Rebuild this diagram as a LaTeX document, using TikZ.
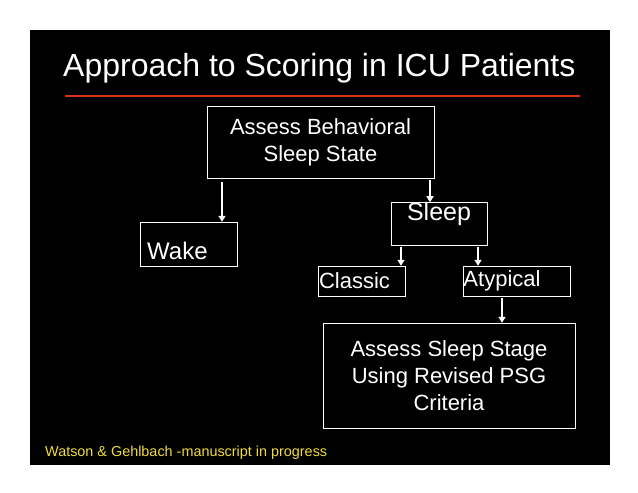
\documentclass[tikz,border=0pt]{standalone}
\usepackage{fontspec}
\setmainfont{Liberation Sans}
\usetikzlibrary{arrows.meta}
\definecolor{footcol}{RGB}{240,220,60}
\definecolor{rulecol}{RGB}{220,50,20}
\tikzstyle{stepbox} = [draw=white, thin, text=white, rectangle, inner sep=0pt, align=center,
    font=\fontsize{22}{27}\selectfont]
\tikzstyle{downArrow} = [draw=white, line width=1.6pt, -{Triangle[length=6pt,width=7pt]}]
\begin{document}
\begin{tikzpicture}[x=1pt,y=-1pt]
\useasboundingbox (0,0) rectangle (638,493);
\fill[black] (30,30) rectangle (610,465);
\node[text=white, anchor=west, inner sep=0pt, font=\fontsize{32}{36}\selectfont] (title) at (63,68) {Approach to Scoring in ICU Patients};
\draw[rulecol, line width=1.2pt] (65,96) -- (580,96);

% boxes
\node[stepbox, minimum width=227pt, minimum height=72pt] (behav) at (320.5,142) {Assess Behavioral\\Sleep State};
\node[stepbox, minimum width=97pt, minimum height=44pt] (wake) at (188.5,244) {};
\node[text=white, anchor=west, inner sep=0pt, font=\fontsize{24}{28}\selectfont] (waketext) at (147,251) {Wake};
\node[stepbox, minimum width=96pt, minimum height=42pt, font=\fontsize{25}{28}\selectfont] (sleep) at (439,224) {Sleep\\[-3pt]};
\node[stepbox, minimum width=87pt, minimum height=30pt] (classic) at (361.5,281) {\hspace*{-14pt}Classic};
\node[stepbox, minimum width=107pt, minimum height=30pt] (atyp) at (516.5,281) {\hspace*{-29pt}Atypical};
\node[stepbox, minimum width=252pt, minimum height=105pt] (stage) at (449,375.5) {Assess Sleep Stage\\Using Revised PSG\\Criteria};

\node[text=footcol, anchor=west, inner sep=0pt, font=\fontsize{14.4}{16}\selectfont] (foot) at (45,453) {Watson \& Gehlbach -manuscript in progress};

% arrows
\coordinate (a1) at (222,182);
\coordinate (a2) at (430,180);
\coordinate (a3) at (401,247);
\coordinate (a4) at (478,247);
\coordinate (a5) at (502,298);
\draw[downArrow] (a1) -- (a1 |- wake.north);
\draw[downArrow] (a2) -- (a2 |- sleep.north);
\draw[downArrow] (a3) -- (a3 |- classic.north);
\draw[downArrow] (a4) -- (a4 |- atyp.north);
\draw[downArrow] (a5) -- (a5 |- stage.north);
\end{tikzpicture}
\end{document}
